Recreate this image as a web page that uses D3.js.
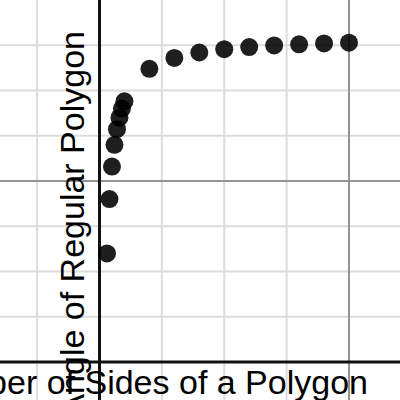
<!DOCTYPE html>
<html>
<head>
<meta charset="utf-8">
<script src="https://cdn.jsdelivr.net/npm/d3@7"></script>
<style>
  html, body { margin: 0; padding: 0; background: #fff; }
  svg { display: block; }
</style>
</head>
<body>
<svg id="chart" width="400" height="400"></svg>
<script>
// Number of sides of a regular polygon
const sides = [3, 4, 5, 6, 7, 8, 9, 10, 20, 30, 40, 50, 60, 70, 80, 90, 100];
// Interior angle (degrees)
const angles = [60, 90, 108, 120, 128.6, 135, 140, 144, 162, 168, 171, 172.8, 174, 174.9, 175.5, 176, 176.4];
// Grid lines
const xMinorGrid = [-25, 25, 50, 75];
const xMajorGrid = [100];
const yMinorGrid = [25, 50, 75, 125, 150, 175];
const yMajorGrid = [100];
const xLabel = "Number of Sides of a Polygon";
const yLabel = "Interior Angle of Regular Polygon";

const W = 400, H = 400;
const svg = d3.select("#chart");

const x = d3.scaleLinear().domain([0, 100]).range([99.5, 349]);
const y = d3.scaleLinear().domain([0, 100]).range([362, 181]);

// minor grid
svg.append("g").selectAll("line").data(xMinorGrid).join("line")
  .attr("x1", d => x(d)).attr("x2", d => x(d))
  .attr("y1", 0).attr("y2", H)
  .attr("stroke", "#dcdcdc").attr("stroke-width", 2);
svg.append("g").selectAll("line").data(yMinorGrid).join("line")
  .attr("y1", d => y(d)).attr("y2", d => y(d))
  .attr("x1", 0).attr("x2", W)
  .attr("stroke", "#dcdcdc").attr("stroke-width", 2);

// major grid
svg.append("g").selectAll("line").data(xMajorGrid).join("line")
  .attr("x1", d => x(d)).attr("x2", d => x(d))
  .attr("y1", 0).attr("y2", H)
  .attr("stroke", "#939393").attr("stroke-width", 2);
svg.append("g").selectAll("line").data(yMajorGrid).join("line")
  .attr("y1", d => y(d)).attr("y2", d => y(d))
  .attr("x1", 0).attr("x2", W)
  .attr("stroke", "#939393").attr("stroke-width", 2);

// axes
svg.append("line")
  .attr("x1", x(0)).attr("x2", x(0)).attr("y1", 0).attr("y2", H)
  .attr("stroke", "#111").attr("stroke-width", 3);
svg.append("line")
  .attr("y1", y(0)).attr("y2", y(0)).attr("x1", 0).attr("x2", W)
  .attr("stroke", "#111").attr("stroke-width", 3);

// points
svg.append("g").selectAll("circle").data(sides).join("circle")
  .attr("cx", d => x(d))
  .attr("cy", (d, i) => y(angles[i]))
  .attr("r", 9)
  .attr("fill", "#000")
  .attr("fill-opacity", 0.88);

// labels
svg.append("text")
  .attr("x", 368).attr("y", 394)
  .attr("text-anchor", "end")
  .attr("font-family", "'Liberation Sans', Arial, sans-serif")
  .attr("font-size", 34)
  .attr("fill", "#000")
  .text(xLabel);

svg.append("text")
  .attr("transform", "translate(84,31) rotate(-90)")
  .attr("text-anchor", "end")
  .attr("font-family", "'Liberation Sans', Arial, sans-serif")
  .attr("font-size", 34)
  .attr("fill", "#000")
  .text(yLabel);
</script>
</body>
</html>
